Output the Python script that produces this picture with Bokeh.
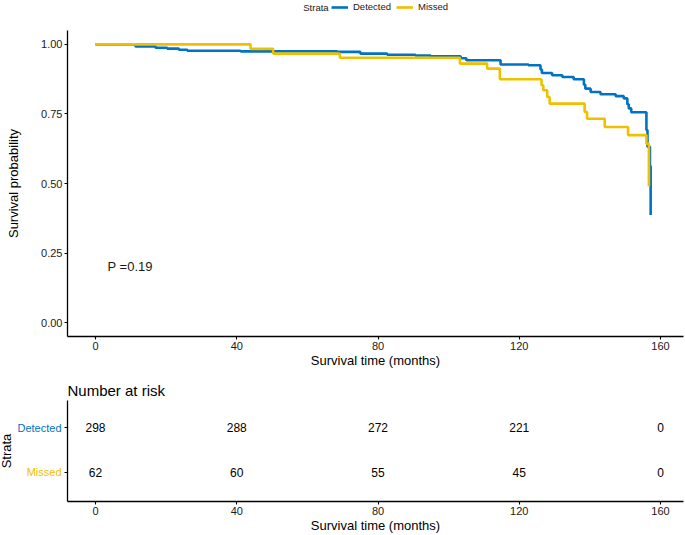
import math
from bokeh.plotting import figure
from bokeh.layouts import column, row
from bokeh.models import (Range1d, FixedTicker, NumeralTickFormatter, Legend,
                          LegendItem, ColumnDataSource)
from bokeh.core.properties import value
from bokeh.embed import file_html
from bokeh.resources import INLINE

# Kaplan-Meier step curves (time in months, survival probability)
detected_time = [0, 11.3, 17.0, 20.3, 23.6, 26.0, 41.1, 68.4, 75.0, 82.6, 90.6,
                 94.9, 103.4, 105.0, 114.7, 122.6, 126.0, 126.4, 129.3, 132.2,
                 135.4, 138.3, 138.7, 140.2, 143.0, 147.3, 149.6, 150.6, 151.0,
                 151.7, 156.0, 156.3, 157.0, 157.2]
detected_surv = [1.000, 0.993, 0.988, 0.985, 0.981, 0.977, 0.975, 0.973, 0.967,
                 0.963, 0.960, 0.957, 0.950, 0.943, 0.928, 0.925, 0.910, 0.897,
                 0.889, 0.883, 0.875, 0.855, 0.841, 0.829, 0.821, 0.814, 0.806,
                 0.785, 0.770, 0.756, 0.692, 0.632, 0.563, 0.387]

missed_time = [0, 43.9, 50.3, 69.2, 103.2, 110.9, 114.5, 126.3, 126.8, 127.9,
               128.6, 138.5, 139.2, 144.2, 150.8, 156.0, 156.7]
missed_surv = [1.000, 0.984, 0.967, 0.952, 0.931, 0.913, 0.875, 0.853, 0.835,
               0.811, 0.787, 0.757, 0.733, 0.703, 0.674, 0.643, 0.490]

# Number at risk table
risk_times = [0, 40, 80, 120, 160]
detected_risk = [298, 288, 272, 221, 0]
missed_risk = [62, 60, 55, 45, 0]

strata = ["Detected", "Missed"]
colors = ["#0073C2", "#EFC000"]
pval_text = "P =0.19"

x_ticks = [0, 40, 80, 120, 160]
y_ticks = [0, 0.25, 0.5, 0.75, 1.0]

FONT = "Liberation Sans"
TXT = "#1a1a1a"
W = 685


def style_axes(p):
    for ax in (p.xaxis[0], p.yaxis[0]):
        ax.axis_line_color = "black"
        ax.axis_line_width = 1.3
        ax.major_tick_line_color = "black"
        ax.major_tick_line_width = 1.1
        ax.major_tick_out = 3
        ax.major_tick_in = 0
        ax.minor_tick_line_color = None
        ax.major_label_text_font = FONT
        ax.major_label_text_font_size = "11px"
        ax.major_label_text_color = TXT
        ax.major_label_standoff = 2
        ax.axis_label_text_font = FONT
        ax.axis_label_text_font_size = "13px"
        ax.axis_label_text_font_style = "normal"
        ax.axis_label_text_color = "black"
    p.xgrid.visible = False
    p.ygrid.visible = False
    p.outline_line_color = None


def bare_figure(width, height, x_range, y_range, **borders):
    f = figure(width=width, height=height, output_backend="svg",
               toolbar_location=None, x_axis_type=None, y_axis_type=None,
               x_range=x_range, y_range=y_range,
               min_border_left=borders.get("left", 0),
               min_border_right=borders.get("right", 0),
               min_border_top=borders.get("top", 0),
               min_border_bottom=borders.get("bottom", 0))
    f.xgrid.visible = False
    f.ygrid.visible = False
    f.outline_line_color = None
    return f


x_start, x_end = -7.93, 166.5

# ---- legend strip (its frame lines up with the curve panel below) ----
LEG_H = 13
leg = bare_figure(W, LEG_H, Range1d(x_start, x_end), Range1d(0, LEG_H))
# swatch renderers kept off-screen; only their legend glyphs are shown
leg_det = leg.line(x=[x_start - 20, x_start - 10], y=[0, 0], line_width=2.6,
                   line_color=colors[0])
leg_mis = leg.line(x=[x_start - 20, x_start - 10], y=[0, 0], line_width=2.6,
                   line_color=colors[1])
legend = Legend(items=[LegendItem(label=strata[0], renderers=[leg_det]),
                       LegendItem(label=strata[1], renderers=[leg_mis])],
                orientation="horizontal", location=(264, 1),
                glyph_width=17, glyph_height=10, label_height=10,
                label_standoff=5, spacing=5, padding=0, margin=0,
                label_text_font=FONT, label_text_font_size="9.5px",
                label_text_color=TXT, background_fill_alpha=0,
                border_line_color=None)
leg.add_layout(legend)
leg.text(x=[66.0], y=[LEG_H - 6.5], text=["Strata"], text_font=value(FONT),
         text_font_size="9.5px", text_align="right", text_baseline="middle",
         text_color=TXT)

# ---- survival curves ----
p = figure(width=W, height=370 - LEG_H, output_backend="svg",
           toolbar_location=None,
           x_range=Range1d(x_start, x_end), y_range=Range1d(-0.05, 1.05),
           min_border_left=67, min_border_right=2, min_border_top=30 - LEG_H,
           min_border_bottom=34)
style_axes(p)
p.xaxis.ticker = FixedTicker(ticks=x_ticks)
p.yaxis.ticker = FixedTicker(ticks=y_ticks)
p.yaxis.formatter = NumeralTickFormatter(format="0.00")
p.xaxis.axis_label = "Survival time (months)"
p.yaxis.axis_label = "Survival probability"
p.xaxis.axis_label_standoff = 0
p.yaxis.axis_label_standoff = 17

p.step(detected_time, detected_surv, mode="after", line_width=2.6,
       line_color=colors[0])
p.step(missed_time, missed_surv, mode="after", line_width=2.6,
       line_color=colors[1])

p.text(x=[3.4], y=[0.2], text=[pval_text], text_font=value(FONT),
       text_font_size="13px", text_baseline="middle", text_align="left",
       text_color=TXT)

# ---- number at risk table ----
RISK_H = 165
risk_y = Range1d(0.35, 2.61)
row_y = {strata[0]: 2, strata[1]: 1}

# strata names and title, left of the table
LEFT_W = 64
lab = bare_figure(LEFT_W, RISK_H, Range1d(0, LEFT_W), risk_y,
                  top=30, bottom=31)
lab.text(x=[61, 61], y=[row_y[s] for s in strata], text=strata,
         text_color=colors, text_font=value(FONT), text_font_size="11px",
         text_align="right", text_baseline="middle")
lab.text(x=[5.5], y=[1.48], text=["Strata"], angle=math.pi / 2,
         text_font=value(FONT), text_font_size="13px", text_align="center",
         text_baseline="middle", text_color="black")

t = figure(width=W - LEFT_W, height=RISK_H, output_backend="svg",
           toolbar_location=None,
           x_range=Range1d(x_start, x_end), y_range=risk_y,
           min_border_left=3, min_border_right=2, min_border_top=30,
           min_border_bottom=31)
style_axes(t)
t.xaxis.ticker = FixedTicker(ticks=x_ticks)
t.yaxis.ticker = FixedTicker(ticks=[1, 2])
t.yaxis.major_label_overrides = {1: "", 2: ""}
t.yaxis.major_label_standoff = 0
t.xaxis.axis_label = "Survival time (months)"
t.xaxis.axis_label_standoff = 0
t.title.text = "Number at risk"
t.title.text_font = FONT
t.title.text_font_size = "15px"
t.title.text_font_style = "normal"
t.title.text_color = "black"
t.title.align = "left"
t.title.standoff = 3

src = ColumnDataSource(dict(
    x=risk_times + risk_times,
    y=[row_y[strata[0]]] * len(risk_times) + [row_y[strata[1]]] * len(risk_times),
    n=[str(v) for v in detected_risk] + [str(v) for v in missed_risk],
))
t.text(x="x", y="y", text="n", source=src, text_font=value(FONT),
       text_font_size="12px", text_align="center", text_baseline="middle",
       text_color="black")

layout = column(leg, p, row(lab, t, spacing=0), spacing=0)
open("out.html", "w").write(file_html(layout, INLINE))
